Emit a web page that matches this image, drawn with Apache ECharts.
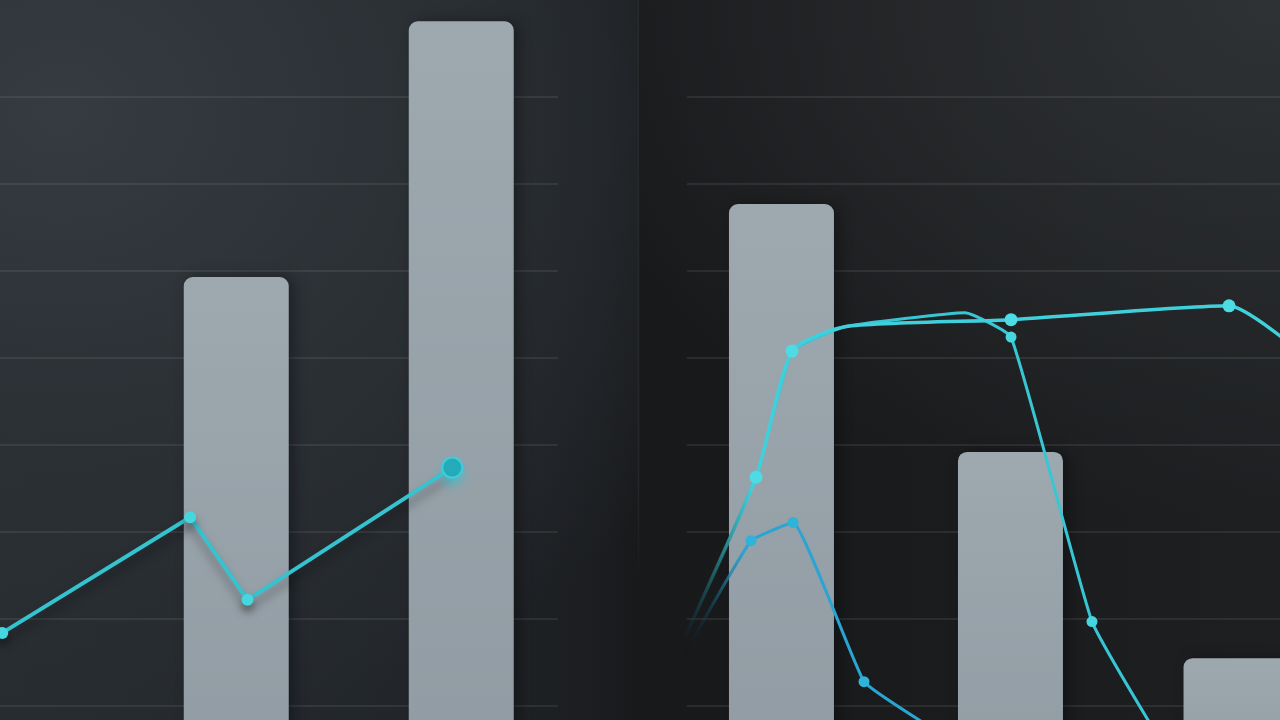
<!DOCTYPE html>
<html>
<head>
<meta charset="utf-8">
<script src="https://cdn.jsdelivr.net/npm/echarts@6/dist/echarts.min.js"></script>
<style>
  html, body { margin: 0; padding: 0; width: 1280px; height: 720px; overflow: hidden; background: #1b1d20; }
  #chart {
    width: 1280px; height: 720px;
    background:
      radial-gradient(ellipse 760px 640px at 60px 110px, #353b41 0%, #2c3136 45%, rgba(33,37,41,0) 100%) 0 0 / 638px 720px no-repeat,
      radial-gradient(ellipse 760px 520px at 640px 0px, #2f3235 0%, rgba(26,27,29,0) 100%) 640px 0 / 640px 720px no-repeat,
      linear-gradient(to right, #272c31 0px, #22262a 420px, #1b1d20 600px, #18191b 640px, #1a1b1d 900px, #1d1f21 1280px);
  }
</style>
</head>
<body>
<div id="chart"></div>
<script>
// ---- data (value units) ----
const leftBarX   = [2, 4];
const leftBarY   = [5.93, 8.87];
const leftLineX  = [-0.08, 1.59, 2.10, 3.92];
const leftLineY  = [1.84, 3.17, 2.22, 3.74];

const rightBarX  = [1, 3, 4.97];
const rightBarY  = [6.77, 3.92, 1.55];

const lineAX = [0.044, 0.778, 1.092, 1.555, 3.005, 4.909, 5.529];
const lineAY = [1.47, 3.63, 5.08, 5.36, 5.44, 5.60, 5.07];

const lineBX = [0.114, 0.734, 1.101, 1.721, 2.297];
const lineBY = [1.51, 2.90, 3.11, 1.28, 0.76];

const lineCX = [0.044, 0.778, 1.092, 1.555, 2.603, 3.005, 3.712, 4.306];
const lineCY = [1.47, 3.63, 5.08, 5.36, 5.52, 5.24, 1.97, 0.61];

const yTicks = [0, 1, 2, 3, 4, 5, 6, 7, 8, 9];

// ---- chart ----
const chart = echarts.init(document.getElementById('chart'), null, { renderer: 'canvas' });

const zip = (xs, ys) => xs.map((x, i) => [x, ys[i]]);
const marked = (xs, ys, hidden) => xs.map((x, i) => hidden.includes(i)
  ? { value: [x, ys[i]], symbol: 'none' }
  : [x, ys[i]]);

const barStyle = {
  borderRadius: [9, 9, 0, 0],
  color: new echarts.graphic.LinearGradient(0, 0, 0, 1, [
    { offset: 0, color: '#9ea8af' },
    { offset: 1, color: '#909ba3' }
  ]),
  shadowColor: 'rgba(0,0,0,0.35)',
  shadowBlur: 14,
  shadowOffsetX: 5
};

const fade = (stop, col) => new echarts.graphic.LinearGradient(0, 0, 1, 0, [
  { offset: 0, color: 'rgba(0,0,0,0)' },
  { offset: stop, color: col },
  { offset: 1, color: col }
]);

const yAxisBase = {
  type: 'value', min: yTicks[0], max: yTicks[yTicks.length - 1], interval: 1,
  axisLine: { show: false }, axisTick: { show: false }, axisLabel: { show: false }
};
const split = (c) => ({ show: true, showMinLine: false, showMaxLine: false,
  lineStyle: { width: 2, color: c } });

chart.setOption({
  backgroundColor: 'transparent',
  animation: false,
  grid: [
    { left: 0, top: 10, width: 558, height: 783, outerBoundsMode: 'none', containLabel: false },
    { left: 687, top: 10, width: 593, height: 783, outerBoundsMode: 'none', containLabel: false }
  ],
  xAxis: [
    { type: 'value', gridIndex: 0, min: -0.1, max: 4.86, show: false },
    { type: 'value', gridIndex: 1, min: 0.175, max: 5.354, show: false }
  ],
  yAxis: [
    Object.assign({}, yAxisBase, { gridIndex: 0, splitLine: split('rgba(255,255,255,0.075)') }),
    Object.assign({}, yAxisBase, { gridIndex: 1, splitLine: split('rgba(255,255,255,0.08)') })
  ],
  graphic: [
    {
      type: 'line', z: 0, silent: true,
      shape: { x1: 638.5, y1: 0, x2: 638.5, y2: 600 },
      style: {
        lineWidth: 1.5,
        stroke: new echarts.graphic.LinearGradient(0, 0, 0, 1, [
          { offset: 0, color: 'rgba(255,255,255,0.07)' },
          { offset: 0.8, color: 'rgba(255,255,255,0.06)' },
          { offset: 1, color: 'rgba(255,255,255,0)' }
        ])
      }
    }
  ],
  series: [
    {
      type: 'bar', xAxisIndex: 0, yAxisIndex: 0, barWidth: 105,
      data: zip(leftBarX, leftBarY), itemStyle: barStyle, z: 2
    },
    {
      type: 'line', xAxisIndex: 0, yAxisIndex: 0, z: 5,
      data: zip(leftLineX, leftLineY).map((p, i, a) => i === a.length - 1
        ? { value: p, symbolSize: 20,
            itemStyle: { color: '#24a7b6', borderColor: '#3fcdd9', borderWidth: 2,
              shadowColor: 'rgba(40,200,215,0.6)', shadowBlur: 10 } }
        : p),
      symbol: 'circle', symbolSize: 12, showSymbol: true,
      lineStyle: { color: '#35c3d0', width: 4,
        shadowColor: 'rgba(0,0,0,0.35)', shadowBlur: 10, shadowOffsetY: 8 },
      itemStyle: { color: '#45d6e0', shadowColor: 'rgba(0,0,0,0.35)', shadowBlur: 8, shadowOffsetY: 6 }
    },
    {
      type: 'bar', xAxisIndex: 1, yAxisIndex: 1, barWidth: 105,
      data: zip(rightBarX, rightBarY), itemStyle: barStyle, z: 2
    },
    {
      type: 'line', xAxisIndex: 1, yAxisIndex: 1, z: 4, clip: false, smooth: 0.12,
      data: marked(lineCX, lineCY, [0, 3, 4, 7]),
      symbol: 'circle', symbolSize: 11, showSymbol: true,
      lineStyle: { color: fade(0.16, '#38c6d4'), width: 3 },
      itemStyle: { color: '#45d6e0' }
    },
    {
      type: 'line', xAxisIndex: 1, yAxisIndex: 1, z: 5, clip: false, smooth: 0.2,
      data: marked(lineAX, lineAY, [0, 3, 6]),
      symbol: 'circle', symbolSize: 13, showSymbol: true,
      lineStyle: { color: fade(0.13, '#3fd0dc'), width: 3.5 },
      itemStyle: { color: '#4ddbe4' }
    },
    {
      type: 'line', xAxisIndex: 1, yAxisIndex: 1, z: 4, clip: false, smooth: 0.1,
      data: marked(lineBX, lineBY, [0, 4]),
      symbol: 'circle', symbolSize: 11, showSymbol: true,
      lineStyle: { color: fade(0.26, '#2aa4d2'), width: 3 },
      itemStyle: { color: '#2fb3d8' }
    }
  ]
});
</script>
</body>
</html>
